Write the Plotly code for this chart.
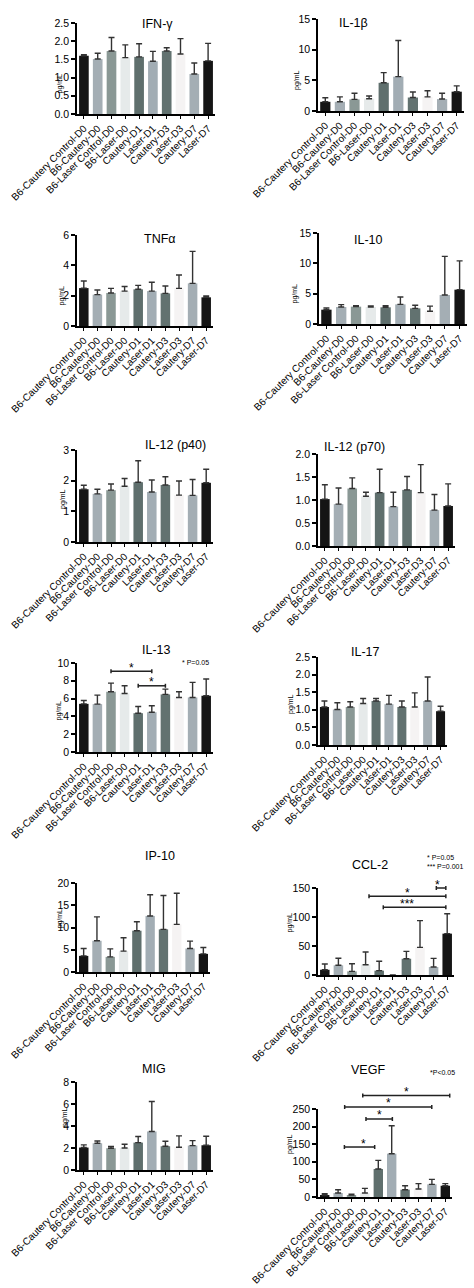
import plotly.graph_objects as go

categories = ["B6-Cautery Control-D0", "B6-Cautery-D0", "B6-Laser Control-D0", "B6-Laser-D0",
              "Cautery-D1", "Laser-D1", "Cautery-D3", "Laser-D3", "Cautery-D7", "Laser-D7"]

# mean and SEM (pg/mL)
ifng_mean = [1.60, 1.51, 1.73, 1.55, 1.57, 1.45, 1.73, 1.65, 1.10, 1.46]
ifng_sem = [0.03, 0.16, 0.37, 0.35, 0.36, 0.27, 0.09, 0.42, 0.30, 0.48]
il1b_mean = [1.5, 1.5, 1.9, 2.0, 4.6, 5.6, 2.2, 2.3, 1.95, 3.15]
il1b_sem = [0.67, 0.8, 1.0, 0.45, 1.65, 5.9, 0.9, 1.0, 0.95, 0.95]
tnfa_mean = [2.5, 2.07, 2.18, 2.3, 2.42, 2.3, 2.15, 2.48, 2.81, 1.89]
tnfa_sem = [0.47, 0.30, 0.30, 0.30, 0.26, 0.58, 0.49, 0.88, 2.11, 0.09]
il10_mean = [2.36, 2.8, 2.86, 2.8, 2.75, 3.24, 2.58, 2.1, 4.78, 5.66]
il10_sem = [0.28, 0.39, 0.14, 0.17, 0.25, 1.21, 0.5, 0.85, 6.37, 4.74]
il12p40_mean = [1.72, 1.57, 1.69, 1.82, 1.95, 1.63, 1.86, 1.53, 1.52, 1.93]
il12p40_sem = [0.13, 0.15, 0.2, 0.25, 0.7, 0.39, 0.27, 0.46, 0.52, 0.44]
il12p70_mean = [1.02, 0.91, 1.25, 1.08, 1.16, 0.855, 1.22, 1.16, 0.78, 0.87]
il12p70_sem = [0.31, 0.35, 0.23, 0.09, 0.51, 0.315, 0.29, 0.61, 0.34, 0.48]
il13_mean = [5.41, 5.38, 6.77, 6.58, 4.36, 4.47, 6.47, 6.13, 6.13, 6.32]
il13_sem = [0.38, 1.01, 0.97, 0.86, 0.75, 0.72, 0.6, 0.64, 1.69, 1.88]
il17_mean = [1.08, 1.01, 1.08, 1.18, 1.25, 1.16, 1.08, 1.08, 1.25, 0.96]
il17_sem = [0.17, 0.19, 0.15, 0.14, 0.07, 0.25, 0.17, 0.40, 0.68, 0.14]
ip10_mean = [3.62, 7.02, 3.4, 4.68, 9.28, 12.6, 9.58, 10.7, 5.28, 4.07]
ip10_sem = [1.66, 5.36, 1.8, 3.02, 2.02, 4.76, 7.62, 7.0, 1.66, 1.43]
ccl2_mean = [9, 16.7, 6.3, 17.8, 7.5, 0, 28, 47.7, 13.8, 71.3]
ccl2_sem = [10, 12.3, 13.2, 21.9, 16.1, 0, 12.8, 46, 14.9, 34.4]
mig_mean = [2.04, 2.43, 1.98, 2.0, 2.49, 3.5, 2.16, 2.07, 2.22, 2.25]
mig_sem = [0.24, 0.21, 0.15, 0.34, 0.55, 2.73, 0.45, 1.03, 0.45, 0.82]
vegf_mean = [5.7, 11.4, 5.7, 11.4, 79.5, 123, 20.8, 22.7, 36, 32]
vegf_sem = [3.8, 9.4, 1.9, 13.2, 24.5, 79.6, 11.2, 15.2, 14, 5.9]

# significance brackets: (from bar index, to bar index, height in pg/mL, mark)
il13_brackets = [(2, 5, 9.06, "*"), (4, 6, 7.44, "*")]
ccl2_brackets = [(3.25, 8.9, 135.6, "*"), (4.3, 8.9, 116.7, "***"), (8.2, 8.9, 150, "*")]
vegf_brackets = [(2.84, 9.33, 288, "*"), (1.49, 7.99, 255.7, "*"),
                 (3.08, 5.05, 221.6, "*"), (1.47, 3.73, 142, "*")]

bar_colors = ["#151515", "#a4aeb4", "#8a9895", "#e6eaea", "#5f6f6d",
              "#a2adb4", "#627270", "#f5f3f3", "#a4aeb4", "#151515"]

W, H = 474, 1288
FONT = "Arial, Liberation Sans, sans-serif"

# box = (left, right, top, bottom) in pixels, title_at = (x, y) in pixels,
# unit_dx = distance of the "pg/mL" label left of the y axis (None: no label)
panels = [
    dict(title="IFN-γ", mean=ifng_mean, sem=ifng_sem, ymax=2.5, dtick=0.5, fmt=".1f",
         box=(77, 215, 23, 114), title_at=(140, 15), unit_dx=24),
    dict(title="IL-1β", mean=il1b_mean, sem=il1b_sem, ymax=15, dtick=5, fmt="d",
         box=(318, 464, 19, 111), title_at=(370, 14), unit_dx=21),
    dict(title="TNFα", mean=tnfa_mean, sem=tnfa_sem, ymax=6, dtick=2, fmt="d",
         box=(77, 213, 235, 326), title_at=(142, 230), unit_dx=22),
    dict(title="IL-10", mean=il10_mean, sem=il10_sem, ymax=15, dtick=5, fmt="d",
         box=(319, 467, 233, 324), title_at=(385, 231), unit_dx=24),
    dict(title="IL-12 (p40)", mean=il12p40_mean, sem=il12p40_sem, ymax=3, dtick=1, fmt="d",
         box=(77, 213, 450, 542), title_at=(143, 445), unit_dx=20),
    dict(title="IL-12 (p70)", mean=il12p70_mean, sem=il12p70_sem, ymax=2, dtick=0.5, fmt=".1f",
         box=(318, 455, 454, 546), title_at=(387, 447), unit_dx=None),
    dict(title="IL-13", mean=il13_mean, sem=il13_sem, ymax=10, dtick=2, fmt="d",
         box=(77, 213, 663, 752), title_at=(140, 650), unit_dx=24, brackets=il13_brackets),
    dict(title="IL-17", mean=il17_mean, sem=il17_sem, ymax=2.5, dtick=0.5, fmt=".1f",
         box=(318, 447, 657, 745), title_at=(382, 652), unit_dx=27),
    dict(title="IP-10", mean=ip10_mean, sem=ip10_sem, ymax=20, dtick=5, fmt="d",
         box=(77, 210, 883, 972), title_at=(143, 865), unit_dx=24),
    dict(title="CCL-2", mean=ccl2_mean, sem=ccl2_sem, ymax=150, dtick=50, fmt="d",
         box=(318, 454, 888, 975), title_at=(390, 874), unit_dx=28, brackets=ccl2_brackets),
    dict(title="MIG", mean=mig_mean, sem=mig_sem, ymax=8, dtick=2, fmt="d",
         box=(77, 213, 1082, 1170), title_at=(140, 1078), unit_dx=18),
    dict(title="VEGF", mean=vegf_mean, sem=vegf_sem, ymax=250, dtick=50, fmt="d",
         box=(318, 452, 1109, 1197), title_at=(387, 1079), unit_dx=28, brackets=vegf_brackets),
]

notes = [("* P=0.05", 180, 662), ("* P=0.05", 425, 863), ("*** P=0.001", 425, 872),
         ("*P<0.05", 428, 1078)]

fig = go.Figure()
annotations = []
shapes = []

for n, p in enumerate(panels, start=1):
    sfx = "" if n == 1 else str(n)
    left, right, top, bottom = p["box"]
    fig.add_trace(go.Bar(
        x=categories, y=p["mean"],
        marker=dict(color=bar_colors, line=dict(width=0)),
        error_y=dict(type="data", symmetric=False, array=p["sem"], arrayminus=[0] * len(p["sem"]),
                     color="#333333", thickness=1.4, width=3),
        xaxis="x" + sfx, yaxis="y" + sfx, showlegend=False,
    ))
    fig.layout["xaxis" + sfx] = dict(
        domain=[left / W, right / W], anchor="y" + sfx, type="category",
        range=[-0.5, len(categories) - 0.5], tickmode="linear", tick0=0, dtick=1,
        showline=True, linecolor="black", linewidth=1.5,
        ticks="outside", ticklen=3, tickwidth=1, tickcolor="black",
        tickangle=-45, tickfont=dict(size=10, color="black"),
        showgrid=False, zeroline=False, automargin=False,
    )
    fig.layout["yaxis" + sfx] = dict(
        domain=[1 - bottom / H, 1 - top / H], anchor="x" + sfx,
        range=[0, p["ymax"]], dtick=p["dtick"], tickformat=p["fmt"],
        showline=True, linecolor="black", linewidth=1.5,
        ticks="outside", ticklen=4, tickwidth=1.5, tickcolor="black",
        tickfont=dict(size=10.5, color="black"),
        showgrid=False, zeroline=False, automargin=False,
    )
    tx, ty = p["title_at"]
    annotations.append(dict(text=p["title"], x=tx / W, y=1 - ty / H, xref="paper", yref="paper",
                            showarrow=False, font=dict(size=12.5, color="black")))
    if p["unit_dx"] is not None:
        annotations.append(dict(text="pg/mL", x=(left - p["unit_dx"]) / W,
                                y=1 - ((top + bottom) / 2 + 3) / H,
                                xref="paper", yref="paper", textangle=-90, showarrow=False,
                                font=dict(size=7, color="black")))

    xr, yr = "x" + sfx + " domain", "y" + sfx + " domain"
    ph = bottom - top
    for i0, i1, level, mark in p.get("brackets", []):
        x0 = (i0 + 0.5) / len(categories)
        x1 = (i1 + 0.5) / len(categories)
        yd = level / p["ymax"]
        line = dict(color="#222222", width=1.5)
        shapes.append(dict(type="line", xref=xr, yref=yr, x0=x0, x1=x1, y0=yd, y1=yd, line=line))
        for xe in (x0, x1):
            shapes.append(dict(type="line", xref=xr, yref=yr, x0=xe, x1=xe,
                               y0=yd - 2 / ph, y1=yd + 2 / ph, line=line))
        annotations.append(dict(text=mark, xref=xr, yref=yr, x=(x0 + x1) / 2, y=yd + 3.5 / ph,
                                showarrow=False, yanchor="middle", borderpad=0,
                                font=dict(size=12, color="black")))

for text, nx, ny in notes:
    annotations.append(dict(text=text, x=nx / W, y=1 - ny / H, xref="paper", yref="paper",
                            xanchor="left", showarrow=False, font=dict(size=7, color="black")))

fig.update_layout(
    width=W, height=H, autosize=False,
    margin=dict(l=0, r=0, t=0, b=0),
    paper_bgcolor="white", plot_bgcolor="white",
    font=dict(family=FONT, color="black"),
    bargap=0.3,
    annotations=annotations, shapes=shapes,
)

fig.write_html("out.html", config={"displayModeBar": False},
               post_script="document.body.style.margin = '0';")
